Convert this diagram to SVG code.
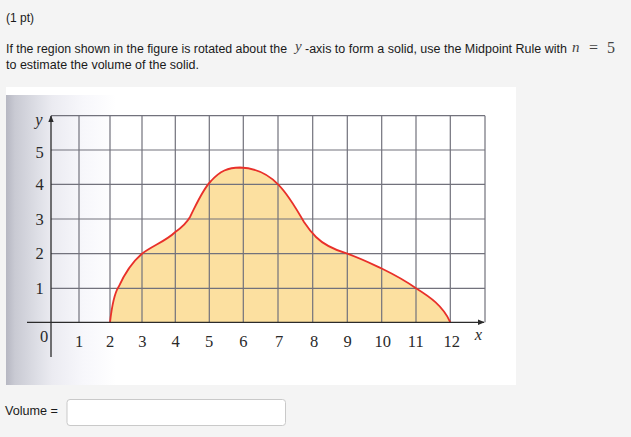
<svg xmlns="http://www.w3.org/2000/svg" width="631" height="437" viewBox="0 0 631 437">
<style>
.t{font-family:"Liberation Sans",Arial,sans-serif;font-size:13px;fill:#1a1a1a}
.s{font-size:12.3px}
.m{font-family:"Liberation Serif","Times New Roman",serif;font-style:italic;font-size:15px;fill:#444}
.mn{font-family:"Liberation Serif","Times New Roman",serif;font-size:16px;fill:#444}
.lab{font-family:"Liberation Serif","Times New Roman",serif;font-size:16.5px;fill:#2a2a2a;text-anchor:middle}
.grid{stroke:#72727c;stroke-width:1.2;fill:none}
.axis{stroke:#2b2b2b;stroke-width:1.3;fill:none}
</style>
<defs>
<linearGradient id="shade" x1="0" y1="0" x2="1" y2="0">
<stop offset="0" stop-color="#b6b7c2"/>
<stop offset="0.08" stop-color="#c9cad3"/>
<stop offset="0.3" stop-color="#dfe0e7"/>
<stop offset="0.42" stop-color="#ebebf1"/>
<stop offset="0.7" stop-color="#f7f7fb"/>
<stop offset="1" stop-color="#ffffff"/>
</linearGradient>
<marker id="arr" viewBox="0 0 10 10" refX="9" refY="5" markerWidth="7" markerHeight="7" markerUnits="userSpaceOnUse" orient="auto">
<path d="M0,1 L10,5 L0,9 z" fill="#2b2b2b"/>
</marker>
</defs>
<rect x="0" y="0" width="631" height="437" fill="#f4f4f4"/>
<g id="question">
<text class="t" x="6" y="22" textLength="28" lengthAdjust="spacingAndGlyphs">(1 pt)</text>
<text class="t s" x="6" y="53" textLength="281" lengthAdjust="spacingAndGlyphs">If the region shown in the figure is rotated about the</text>
<text class="m" x="295" y="51">y</text>
<text class="t s" x="305" y="53" textLength="262" lengthAdjust="spacingAndGlyphs">-axis to form a solid, use the Midpoint Rule with</text>
<text class="m" x="572" y="52">n</text>
<text class="mn" x="589" y="53">=</text>
<text class="mn" x="607" y="53">5</text>
<text class="t" x="6" y="69" textLength="193" lengthAdjust="spacingAndGlyphs">to estimate the volume of the solid.</text>
</g>
<g id="figure">
<rect x="6" y="87" width="510" height="298" fill="#ffffff"/>
<rect x="6" y="95" width="110" height="290" fill="url(#shade)"/>
<path id="region" d="M110,322.3 C112,305 114,294 118.5,287 C124,275 132,262 142,253.7 C152,246 166,241 175.3,232 C181,228 186,224 190,217 C197,203 203,189 211,181 C220,171 228,167.5 240,167.5 C255,168 268,174 278,184.3 C288,194 296,208 304,222 C308,228 311,232 316,237 C324,245 335,250 347.3,253.7 C362,259 372,264 381.7,268.5 C395,275 406,281 416,288.3 C430,297 443,306 450.3,322.3 Z" fill="#fce0a0"/>
<g id="grid" class="grid">
<path d="M79,115.7V322.3M110,115.7V322.3M142,115.7V322.3M175.3,115.7V322.3M209.3,115.7V322.3M243.3,115.7V322.3M278,115.7V322.3M312.7,115.7V322.3M347.3,115.7V322.3M381.7,115.7V322.3M416,115.7V322.3M450.3,115.7V322.3M485,115.7V322.3"/>
<path d="M51,115.7H485M51,150H485M51,184.3H485M51,219H485M51,253.7H485M51,288.3H485"/>
</g>
<path id="curve" d="M110,322.3 C112,305 114,294 118.5,287 C124,275 132,262 142,253.7 C152,246 166,241 175.3,232 C181,228 186,224 190,217 C197,203 203,189 211,181 C220,171 228,167.5 240,167.5 C255,168 268,174 278,184.3 C288,194 296,208 304,222 C308,228 311,232 316,237 C324,245 335,250 347.3,253.7 C362,259 372,264 381.7,268.5 C395,275 406,281 416,288.3 C430,297 443,306 450.3,322.3" fill="none" stroke="#e8302a" stroke-width="1.8"/>
<g id="axes">
<path class="axis" d="M27,322.3H484" marker-end="url(#arr)"/>
<path class="axis" d="M51,357V116" marker-end="url(#arr)"/>
</g>
<g id="labels">
<text class="lab" x="39" y="124.5" font-style="italic">y</text>
<text class="lab" x="39.5" y="158">5</text>
<text class="lab" x="39.5" y="190">4</text>
<text class="lab" x="39.5" y="225">3</text>
<text class="lab" x="39.5" y="259">2</text>
<text class="lab" x="39.5" y="294">1</text>
<text class="lab" x="44" y="341.7">0</text>
<text class="lab" x="79" y="346.7">1</text>
<text class="lab" x="110" y="346.7">2</text>
<text class="lab" x="142.3" y="346.7">3</text>
<text class="lab" x="175.7" y="346.7">4</text>
<text class="lab" x="209" y="346.7">5</text>
<text class="lab" x="243.3" y="346.7">6</text>
<text class="lab" x="279" y="346.7">7</text>
<text class="lab" x="314" y="346.7">8</text>
<text class="lab" x="347.7" y="346.7">9</text>
<text class="lab" x="382.7" y="346.7">10</text>
<text class="lab" x="415.7" y="346.7">11</text>
<text class="lab" x="451.7" y="346.7">12</text>
<text class="lab" x="478.3" y="340" font-style="italic">x</text>
</g>
</g>
<g id="answer">
<text class="t" x="5" y="414.5" textLength="53" lengthAdjust="spacingAndGlyphs">Volume =</text>
<rect x="67" y="399.5" width="218.5" height="26" rx="3" ry="3" fill="#ffffff" stroke="#c9c9c9" stroke-width="1"/>
</g>
</svg>
